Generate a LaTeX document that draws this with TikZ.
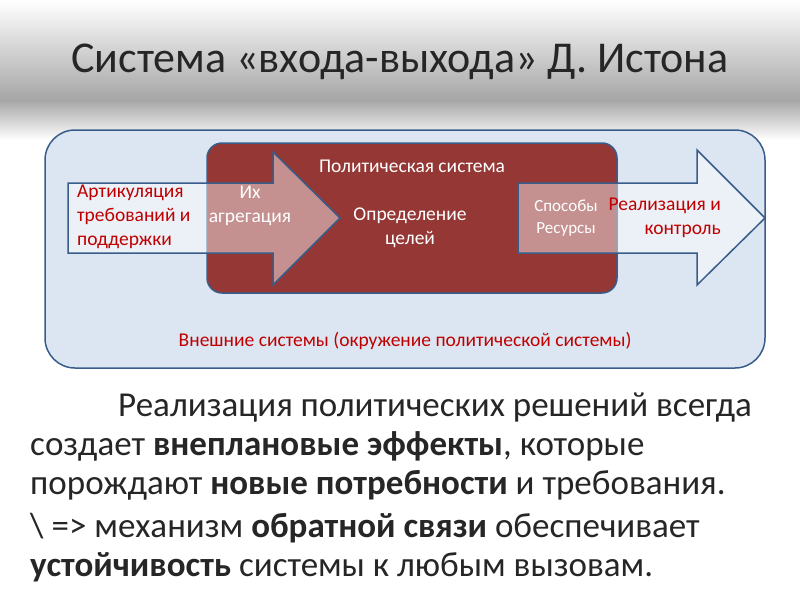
\documentclass[tikz,border=0pt]{standalone}
\usepackage{fontspec}
\setmainfont{Carlito}
\definecolor{boxblue}{HTML}{DCE6F2}
\definecolor{lineblue}{HTML}{385D8A}
\definecolor{polred}{HTML}{953735}
\definecolor{txtred}{HTML}{C00000}
\begin{document}
\begin{tikzpicture}[x=1pt,y=-1pt]
    \tikzset{
    outerbox/.style={draw=lineblue,line width=1.5,fill=boxblue,rounded corners=30},
    polbox/.style={draw=lineblue,line width=1.5,fill=polred,rounded corners=15},
    bigarrow/.style={draw=lineblue,line width=1.5,fill=white,fill opacity=0.45},
    redtxt/.style={text=txtred,font=\fontsize{19.5}{24}\selectfont,align=center,inner sep=1},
    whitetxt/.style={text=white,font=\fontsize{19.5}{24}\selectfont,align=center,inner sep=1},
    bodytxt/.style={anchor=base west,font=\fontsize{35}{40}\selectfont,text=black!85,inner sep=0},
    }
    \useasboundingbox (0,0) rectangle (800,600);
    \fill[white] (0,0) rectangle (800,600);
    \shade[top color=white,bottom color=black!35] (0,0) rectangle (800,100);
    \shade[top color=black!35,bottom color=white] (0,100) rectangle (800,140);
    \node[font=\fontsize{44}{50}\selectfont,text=black!85] (title) at (400,62) {Система «входа-выхода» Д. Истона};

    \draw[outerbox] (45,130) rectangle (765,368);
    \draw[polbox] (207,143) rectangle (617,293);
    \draw[bigarrow] (68,183) -- (273,183) -- (273,152) -- (340,218) -- (273,285) -- (273,253) -- (68,253) -- cycle;
    \draw[bigarrow] (518,183) -- (697,183) -- (697,150) -- (765,218) -- (697,285) -- (697,253) -- (518,253) -- cycle;

    \node[whitetxt] (pol) at (412,166) {Политическая система};
    \node[whitetxt] (goal) at (410,228) {Определение\\целей};
    \node[redtxt,align=left,anchor=west] (art) at (76,217) {Артикуляция\\требований и\\поддержки};
    \node[whitetxt] (agg) at (250,206) {Их\\агрегация};
    \node[whitetxt,font=\fontsize{17}{22}\selectfont] (res) at (566,218) {Способы\\Ресурсы};
    \node[redtxt,align=right,anchor=east] (real) at (722,218) {Реализация и\\контроль};
    \node[redtxt] (ext) at (405,341) {Внешние системы (окружение политической системы)};

    \node[bodytxt] (l1) at (118,416) {Реализация политических решений всегда};
    \node[bodytxt] (l2) at (30,455) {создает \textbf{внеплановые эффекты}, которые};
    \node[bodytxt] (l3) at (30,494) {порождают \textbf{новые потребности} и требования.};
    \node[bodytxt] (l4) at (30,537) {\textbackslash\ => механизм \textbf{обратной связи} обеспечивает};
    \node[bodytxt] (l5) at (30,576) {\textbf{устойчивость} системы к любым вызовам.};
\end{tikzpicture}
\end{document}
